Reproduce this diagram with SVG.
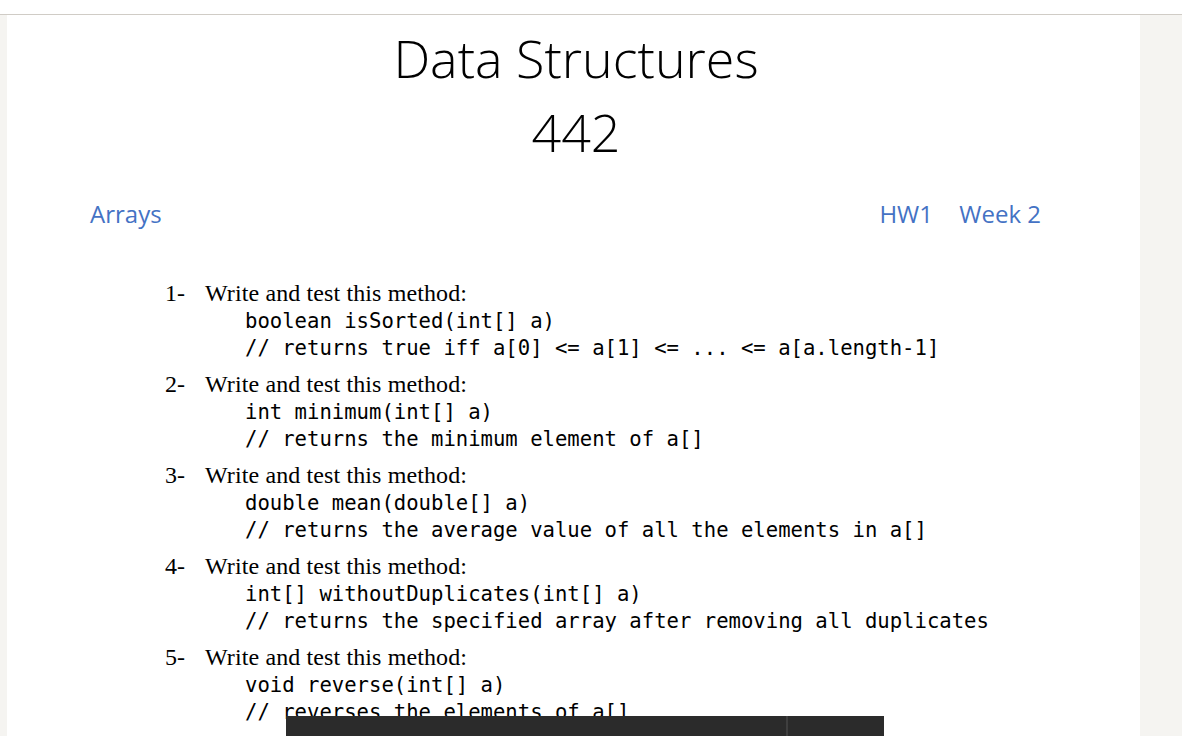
<svg xmlns="http://www.w3.org/2000/svg" width="1182" height="736" viewBox="0 0 1182 736">
<style>
.t{font-family:"Open Sans","Liberation Sans",sans-serif;font-weight:300;fill:#000;text-anchor:middle}
.h{font-family:"Open Sans","Liberation Sans",sans-serif;font-size:24px;fill:#4472c4}
.n{font-family:"Liberation Serif",serif;font-size:24px;fill:#000}
.c{font-family:"DejaVu Sans Mono",monospace;font-size:20.6px;fill:#000}
</style>
<rect width="1182" height="736" fill="#f5f4f1"/>
<rect width="1182" height="14" fill="#fff"/>
<line x1="0" y1="14.5" x2="1182" y2="14.5" stroke="#d0ccc6"/>
<rect x="7" y="15" width="1133" height="721" fill="#fff"/>
<text class="t" x="576" y="78" font-size="52">Data Structures</text>
<text class="t" x="576" y="152" font-size="52">442</text>
<text class="h" x="90" y="223">Arrays</text>
<text class="h" x="933" y="223" text-anchor="end">HW1</text>
<text class="h" x="1041" y="223" text-anchor="end">Week 2</text>
<g id="q1"><text class="n" x="165" y="301">1-</text><text class="n" x="205" y="301" textLength="262">Write and test this method:</text>
<text class="c" x="245" y="328">boolean isSorted(int[] a)</text>
<text class="c" x="245" y="355">// returns true iff a[0] &lt;= a[1] &lt;= ... &lt;= a[a.length-1]</text></g>
<g id="q2"><text class="n" x="165" y="392">2-</text><text class="n" x="205" y="392" textLength="262">Write and test this method:</text>
<text class="c" x="245" y="419">int minimum(int[] a)</text>
<text class="c" x="245" y="446">// returns the minimum element of a[]</text></g>
<g id="q3"><text class="n" x="165" y="483">3-</text><text class="n" x="205" y="483" textLength="262">Write and test this method:</text>
<text class="c" x="245" y="510">double mean(double[] a)</text>
<text class="c" x="245" y="537">// returns the average value of all the elements in a[]</text></g>
<g id="q4"><text class="n" x="165" y="574">4-</text><text class="n" x="205" y="574" textLength="262">Write and test this method:</text>
<text class="c" x="245" y="601">int[] withoutDuplicates(int[] a)</text>
<text class="c" x="245" y="628">// returns the specified array after removing all duplicates</text></g>
<g id="q5"><text class="n" x="165" y="665">5-</text><text class="n" x="205" y="665" textLength="262">Write and test this method:</text>
<text class="c" x="245" y="692">void reverse(int[] a)</text>
<text class="c" x="245" y="719">// reverses the elements of a[]</text></g>
<rect x="286" y="716" width="598" height="20" fill="#2b2b2b"/>
<line x1="787" y1="716" x2="787" y2="736" stroke="#555"/>
</svg>
